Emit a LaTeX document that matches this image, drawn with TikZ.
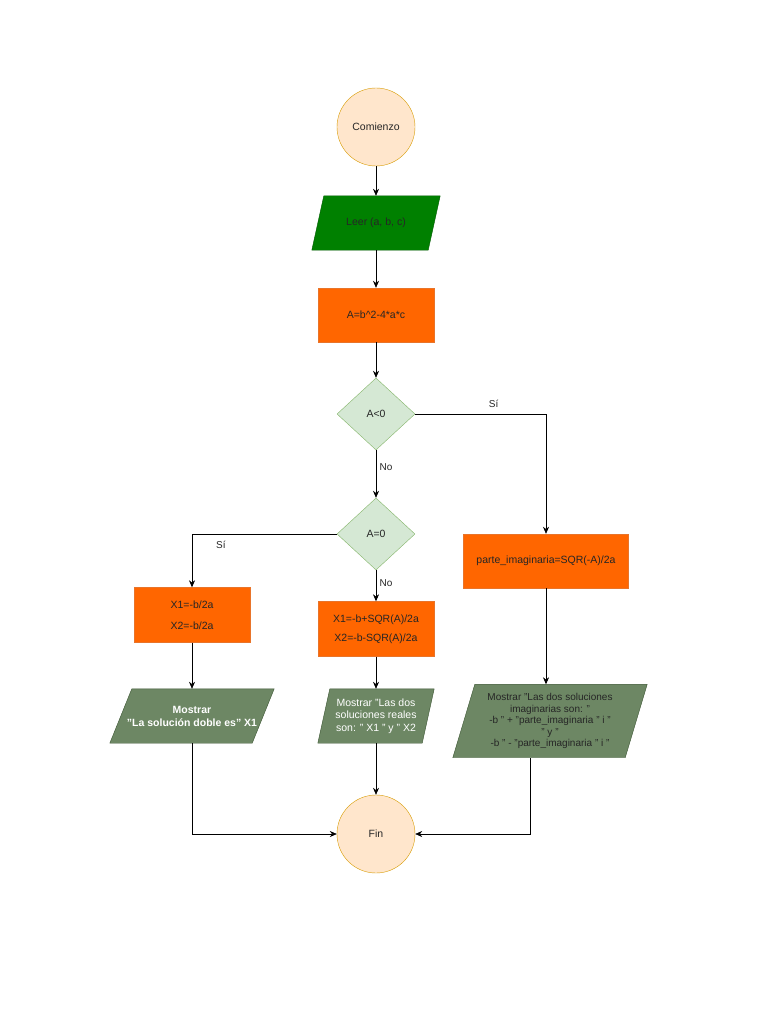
\documentclass[tikz,border=0pt]{standalone}
\usepackage{fontspec}
\setmainfont{Liberation Sans}
\usetikzlibrary{arrows.meta,shapes.geometric}
\definecolor{peach}{HTML}{FFE6CC}
\definecolor{peachb}{HTML}{D79B00}
\definecolor{dgreen}{HTML}{008000}
\definecolor{orng}{HTML}{FF6600}
\definecolor{orngb}{HTML}{E8742A}
\definecolor{lgreen}{HTML}{D5E8D4}
\definecolor{lgreenb}{HTML}{82B366}
\definecolor{olive}{HTML}{6D8764}
\definecolor{oliveb}{HTML}{3A5431}
\begin{document}
\begin{tikzpicture}[x=1pt,y=-1pt,
  every node/.style={font=\fontsize{10.5}{13}\selectfont,align=center,text=black!85},
  term/.style={circle,draw=peachb,fill=peach,minimum size=78pt,inner sep=0pt},
  proc/.style={rectangle,draw=orngb,fill=orng,inner sep=0pt},
  dec/.style={diamond,draw=lgreenb,fill=lgreen,minimum width=78pt,minimum height=72pt,inner sep=0pt,aspect=1.08},
  pbox/.style={rectangle,inner sep=0pt},
  arr/.style={draw=black,-{Stealth[length=7pt,width=6pt]},line width=0.6pt},
  ln/.style={draw=black,line width=0.6pt},
  lab/.style={font=\fontsize{10}{12}\selectfont}]
\useasboundingbox (0,0) rectangle (768,1024);
% shapes
\node[term] (start) at (376,127) {Comienzo};
\node[pbox,minimum width=116pt,minimum height=54pt] (leer) at (376,223) {};
\node[proc,minimum width=116pt,minimum height=54pt] (disc) at (376,315) {A=b\textasciicircum 2-4*a*c};
\node[dec] (d1) at (376,414) {A<0};
\node[dec] (d2) at (376,534) {A=0};
\node[proc,minimum width=165pt,minimum height=54pt] (parte) at (546,561) {parte\_imaginaria=SQR(-A)/2a};
\node[proc,minimum width=116pt,minimum height=55pt] (x1a) at (192,615) {X1=-b/2a\\[8pt]X2=-b/2a};
\node[proc,minimum width=116pt,minimum height=55pt] (x1b) at (376,629) {X1=-b+SQR(A)/2a\\[6pt]X2=-b-SQR(A)/2a};
\node[pbox,minimum width=142pt,minimum height=54pt] (m1) at (192,716) {};
\node[pbox,minimum width=104pt,minimum height=54pt] (m2) at (376,716) {};
\node[pbox,minimum width=172pt,minimum height=73pt] (m3) at (550,721) {};
\node[term] (fin) at (376,834) {Fin};
% parallelograms
\draw[draw=dgreen!70!black,fill=dgreen] ([xshift=6pt]leer.north west) -- ([xshift=6pt]leer.north east) -- ([xshift=-6pt]leer.south east) -- ([xshift=-6pt]leer.south west) -- cycle;
\node at (leer) {Leer (a, b, c)};
\foreach \n/\s in {m1/11,m2/6,m3/11}{
 \draw[draw=oliveb,fill=olive] ([xshift=\s pt]\n.north west) -- ([xshift=\s pt]\n.north east) -- ([xshift=-\s pt]\n.south east) -- ([xshift=-\s pt]\n.south west) -- cycle;}
\node[text=white,font=\bfseries\fontsize{10.5}{13}\selectfont] at (m1) {Mostrar\\ "La solución doble es" X1};
\node[text=white,font=\fontsize{10.5}{12.5}\selectfont] at (m2) {Mostrar "Las dos\\ soluciones reales\\ son: " X1 " y " X2};
\node[font=\fontsize{10}{11.5}\selectfont] at (m3) {Mostrar "Las dos soluciones\\ imaginarias son: "\\ -b " + "parte\_imaginaria " i "\\ " y "\\ -b " - "parte\_imaginaria " i "};
% connectors
\draw[arr] (start) -- (leer);
\draw[arr] (leer) -- (disc);
\draw[arr] (disc) -- (d1);
\draw[arr] (d1) -- node[lab,pos=0.35,right] {No} (d2);
\draw[arr] (d1.east) -| node[lab,pos=0.3,above,yshift=3pt] {Sí} (parte.north);
\draw[arr] (d2.west) -| node[lab,pos=0.4,below,yshift=-3pt] {Sí} (x1a.north);
\draw[arr] (d2) -- node[lab,pos=0.4,right] {No} (x1b);
\draw[arr] (x1a) -- (m1);
\draw[arr] (x1b) -- (m2);
\draw[arr] (parte) -- (parte|-m3.north);
\draw[arr] (m2) -- (fin);
\coordinate (c1) at (m1.south|-fin);
\draw[arr] (m1.south) -- (c1) -- (fin.west);
\coordinate (m3b) at (530,758);
\draw[arr] (m3b) |- (fin.east);
\end{tikzpicture}
\end{document}
